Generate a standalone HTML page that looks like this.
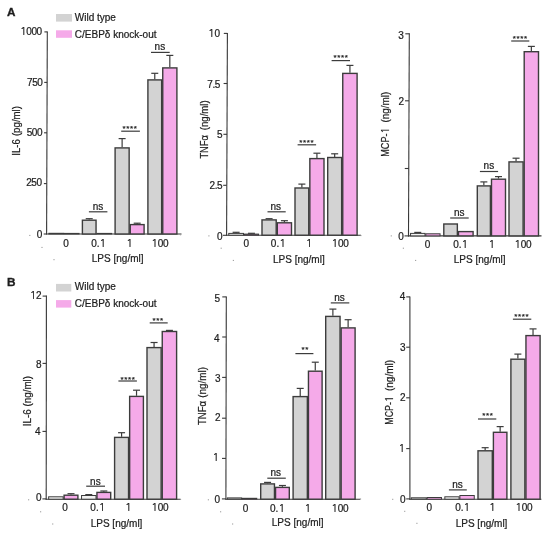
<!DOCTYPE html>
<html><head><meta charset="utf-8"><style>
html,body{margin:0;padding:0;background:#fff;}
svg{display:block;}
svg text{font-family:'Liberation Sans', Arial, sans-serif;fill:#1e1e1e;stroke:#1e1e1e;stroke-width:0.22px;}
</style></head><body>
<svg width="550" height="536" viewBox="0 0 550 536">
<rect width="550" height="536" fill="#fff"/>
<line x1="47.30" y1="31.50" x2="46.60" y2="234.50" stroke="#383838" stroke-width="1.1"/>
<line x1="46.10" y1="234.00" x2="181.50" y2="234.00" stroke="#383838" stroke-width="1.1"/>
<line x1="43.70" y1="234.00" x2="46.60" y2="234.00" stroke="#383838" stroke-width="1.1"/>
<text x="41.9" y="237.8" text-anchor="end" font-size="10" letter-spacing="-0.45">0</text>
<line x1="43.87" y1="183.60" x2="46.77" y2="183.60" stroke="#383838" stroke-width="1.1"/>
<text x="41.5" y="186.2" text-anchor="end" font-size="10" letter-spacing="-0.45">250</text>
<line x1="44.05" y1="132.80" x2="46.95" y2="132.80" stroke="#383838" stroke-width="1.1"/>
<text x="42.1" y="135.8" text-anchor="end" font-size="10" letter-spacing="-0.45">500</text>
<line x1="44.23" y1="82.40" x2="47.13" y2="82.40" stroke="#383838" stroke-width="1.1"/>
<text x="42.4" y="86.1" text-anchor="end" font-size="10" letter-spacing="-0.45">750</text>
<line x1="44.40" y1="31.90" x2="47.30" y2="31.90" stroke="#383838" stroke-width="1.1"/>
<text x="41.7" y="35.4" text-anchor="end" font-size="10" letter-spacing="-0.45"><tspan font-family="NanumGothic" font-size="11.2">1</tspan>000</text>
<rect x="48.85" y="233.30" width="14.75" height="0.70" fill="#f2f2f2" stroke="#3c3c3c" stroke-width="1.0"/>
<rect x="64.40" y="233.40" width="14.65" height="0.60" fill="#f5aae9" stroke="#3c3c3c" stroke-width="1.0"/>
<line x1="89.22" y1="219.60" x2="89.22" y2="218.70" stroke="#3c3c3c" stroke-width="1.2"/>
<line x1="85.72" y1="218.70" x2="92.72" y2="218.70" stroke="#3c3c3c" stroke-width="1.2"/>
<rect x="82.40" y="220.20" width="13.65" height="13.80" fill="#d3d3d3" stroke="#3c3c3c" stroke-width="1.4"/>
<rect x="97.00" y="233.40" width="14.65" height="0.60" fill="#f5aae9" stroke="#3c3c3c" stroke-width="1.0"/>
<line x1="122.12" y1="147.30" x2="122.12" y2="138.60" stroke="#3c3c3c" stroke-width="1.2"/>
<line x1="118.62" y1="138.60" x2="125.62" y2="138.60" stroke="#3c3c3c" stroke-width="1.2"/>
<rect x="115.10" y="147.90" width="14.05" height="86.10" fill="#d3d3d3" stroke="#3c3c3c" stroke-width="1.4"/>
<line x1="137.18" y1="224.00" x2="137.18" y2="223.20" stroke="#3c3c3c" stroke-width="1.2"/>
<line x1="133.68" y1="223.20" x2="140.68" y2="223.20" stroke="#3c3c3c" stroke-width="1.2"/>
<rect x="130.25" y="224.60" width="13.85" height="9.40" fill="#f5aae9" stroke="#3c3c3c" stroke-width="1.4"/>
<line x1="154.77" y1="79.30" x2="154.77" y2="73.30" stroke="#3c3c3c" stroke-width="1.2"/>
<line x1="151.27" y1="73.30" x2="158.27" y2="73.30" stroke="#3c3c3c" stroke-width="1.2"/>
<rect x="147.90" y="79.90" width="13.75" height="154.10" fill="#d3d3d3" stroke="#3c3c3c" stroke-width="1.4"/>
<line x1="169.82" y1="67.30" x2="169.82" y2="55.40" stroke="#3c3c3c" stroke-width="1.2"/>
<line x1="166.32" y1="55.40" x2="173.32" y2="55.40" stroke="#3c3c3c" stroke-width="1.2"/>
<rect x="162.75" y="67.90" width="14.15" height="166.10" fill="#f5aae9" stroke="#3c3c3c" stroke-width="1.4"/>
<line x1="88.90" y1="211.80" x2="107.40" y2="211.80" stroke="#3c3c3c" stroke-width="1.2"/>
<text x="98.0" y="209.5" text-anchor="middle" font-size="10" >ns</text>
<line x1="121.20" y1="131.20" x2="139.90" y2="131.20" stroke="#3c3c3c" stroke-width="1.2"/>
<text x="130.05" y="130.7" text-anchor="middle" font-size="8" letter-spacing="0.65">****</text>
<line x1="151.00" y1="52.40" x2="169.70" y2="52.40" stroke="#3c3c3c" stroke-width="1.2"/>
<text x="159.9" y="50.1" text-anchor="middle" font-size="10" >ns</text>
<text x="66" y="246.6" text-anchor="middle" font-size="10" >0</text>
<text x="98.8" y="246.6" text-anchor="middle" font-size="10" >0.<tspan font-family="NanumGothic" font-size="11.2">1</tspan></text>
<text x="129.6" y="246.6" text-anchor="middle" font-size="10" ><tspan font-family="NanumGothic" font-size="11.2">1</tspan></text>
<text x="159.8" y="246.6" text-anchor="middle" font-size="10" letter-spacing="-0.35"><tspan font-family="NanumGothic" font-size="11.2">1</tspan>00</text>
<text x="91.8" y="262.0" text-anchor="start" font-size="10" >LPS [ng/ml]</text>
<text x="0" y="0" text-anchor="start" font-size="10" textLength="16.50" lengthAdjust="spacingAndGlyphs" transform="translate(19.6,155.70) rotate(-90)">IL-6</text>
<text x="0" y="0" text-anchor="start" font-size="10" textLength="30.10" lengthAdjust="spacingAndGlyphs" transform="translate(19.6,136.10) rotate(-90)">(pg/ml)</text>
<line x1="227.40" y1="32.90" x2="226.60" y2="235.70" stroke="#383838" stroke-width="1.1"/>
<line x1="226.10" y1="235.20" x2="361.00" y2="235.20" stroke="#383838" stroke-width="1.1"/>
<line x1="223.00" y1="235.30" x2="226.60" y2="235.30" stroke="#383838" stroke-width="1.1"/>
<text x="222.2" y="240.4" text-anchor="end" font-size="10" letter-spacing="-0.45">0</text>
<line x1="223.20" y1="185.30" x2="226.80" y2="185.30" stroke="#383838" stroke-width="1.1"/>
<text x="222.1" y="188.5" text-anchor="end" font-size="10" letter-spacing="-0.45">2.5</text>
<line x1="223.40" y1="134.30" x2="227.00" y2="134.30" stroke="#383838" stroke-width="1.1"/>
<text x="222.0" y="137.7" text-anchor="end" font-size="10" letter-spacing="-0.45">5</text>
<line x1="223.60" y1="83.50" x2="227.20" y2="83.50" stroke="#383838" stroke-width="1.1"/>
<text x="219.9" y="87.55" text-anchor="end" font-size="10" letter-spacing="-0.45">7.5</text>
<line x1="223.80" y1="33.40" x2="227.40" y2="33.40" stroke="#383838" stroke-width="1.1"/>
<text x="219.5" y="37.45" text-anchor="end" font-size="10" letter-spacing="-0.45"><tspan font-family="NanumGothic" font-size="11.2">1</tspan>0</text>
<line x1="236.12" y1="232.90" x2="236.12" y2="232.30" stroke="#3c3c3c" stroke-width="1.2"/>
<line x1="232.62" y1="232.30" x2="239.62" y2="232.30" stroke="#3c3c3c" stroke-width="1.2"/>
<rect x="228.75" y="233.40" width="14.75" height="1.80" fill="#f2f2f2" stroke="#3c3c3c" stroke-width="1.0"/>
<line x1="251.43" y1="233.60" x2="251.43" y2="233.30" stroke="#3c3c3c" stroke-width="1.2"/>
<line x1="247.93" y1="233.30" x2="254.93" y2="233.30" stroke="#3c3c3c" stroke-width="1.2"/>
<rect x="244.30" y="234.10" width="14.25" height="1.10" fill="#f5aae9" stroke="#3c3c3c" stroke-width="1.0"/>
<line x1="269.10" y1="219.30" x2="269.10" y2="218.70" stroke="#3c3c3c" stroke-width="1.2"/>
<line x1="265.60" y1="218.70" x2="272.60" y2="218.70" stroke="#3c3c3c" stroke-width="1.2"/>
<rect x="262.00" y="219.90" width="14.20" height="15.30" fill="#d3d3d3" stroke="#3c3c3c" stroke-width="1.4"/>
<line x1="284.40" y1="222.20" x2="284.40" y2="220.70" stroke="#3c3c3c" stroke-width="1.2"/>
<line x1="280.90" y1="220.70" x2="287.90" y2="220.70" stroke="#3c3c3c" stroke-width="1.2"/>
<rect x="277.30" y="222.80" width="14.20" height="12.40" fill="#f5aae9" stroke="#3c3c3c" stroke-width="1.4"/>
<line x1="301.88" y1="187.40" x2="301.88" y2="184.10" stroke="#3c3c3c" stroke-width="1.2"/>
<line x1="298.38" y1="184.10" x2="305.38" y2="184.10" stroke="#3c3c3c" stroke-width="1.2"/>
<rect x="295.00" y="188.00" width="13.75" height="47.20" fill="#d3d3d3" stroke="#3c3c3c" stroke-width="1.4"/>
<line x1="316.92" y1="158.00" x2="316.92" y2="153.20" stroke="#3c3c3c" stroke-width="1.2"/>
<line x1="313.42" y1="153.20" x2="320.42" y2="153.20" stroke="#3c3c3c" stroke-width="1.2"/>
<rect x="309.85" y="158.60" width="14.15" height="76.60" fill="#f5aae9" stroke="#3c3c3c" stroke-width="1.4"/>
<line x1="334.67" y1="156.90" x2="334.67" y2="153.80" stroke="#3c3c3c" stroke-width="1.2"/>
<line x1="331.17" y1="153.80" x2="338.17" y2="153.80" stroke="#3c3c3c" stroke-width="1.2"/>
<rect x="327.70" y="157.50" width="13.95" height="77.70" fill="#d3d3d3" stroke="#3c3c3c" stroke-width="1.4"/>
<line x1="349.93" y1="72.80" x2="349.93" y2="65.40" stroke="#3c3c3c" stroke-width="1.2"/>
<line x1="346.43" y1="65.40" x2="353.43" y2="65.40" stroke="#3c3c3c" stroke-width="1.2"/>
<rect x="342.75" y="73.40" width="14.35" height="161.80" fill="#f5aae9" stroke="#3c3c3c" stroke-width="1.4"/>
<line x1="267.50" y1="211.80" x2="285.70" y2="211.80" stroke="#3c3c3c" stroke-width="1.2"/>
<text x="275.8" y="210.0" text-anchor="middle" font-size="10" >ns</text>
<line x1="297.60" y1="144.80" x2="316.10" y2="144.80" stroke="#3c3c3c" stroke-width="1.2"/>
<text x="306.75" y="144.6" text-anchor="middle" font-size="8" letter-spacing="0.65">****</text>
<line x1="331.60" y1="60.60" x2="350.00" y2="60.60" stroke="#3c3c3c" stroke-width="1.2"/>
<text x="341.05" y="59.6" text-anchor="middle" font-size="8" letter-spacing="0.65">****</text>
<text x="246.2" y="247.2" text-anchor="middle" font-size="10" >0</text>
<text x="278.4" y="247.2" text-anchor="middle" font-size="10" >0.<tspan font-family="NanumGothic" font-size="11.2">1</tspan></text>
<text x="309.1" y="247.2" text-anchor="middle" font-size="10" ><tspan font-family="NanumGothic" font-size="11.2">1</tspan></text>
<text x="340.0" y="247.2" text-anchor="middle" font-size="10" letter-spacing="-0.35"><tspan font-family="NanumGothic" font-size="11.2">1</tspan>00</text>
<text x="273" y="262.6" text-anchor="start" font-size="10" >LPS [ng/ml]</text>
<text x="0" y="0" text-anchor="start" font-size="10" textLength="23.50" lengthAdjust="spacingAndGlyphs" transform="translate(207.7,158.60) rotate(-90)">TNFα</text>
<text x="0" y="0" text-anchor="start" font-size="10" textLength="30.00" lengthAdjust="spacingAndGlyphs" transform="translate(207.7,130.30) rotate(-90)">(ng/ml)</text>
<line x1="409.30" y1="33.30" x2="408.50" y2="236.40" stroke="#383838" stroke-width="1.1"/>
<line x1="408.00" y1="235.90" x2="541.50" y2="235.90" stroke="#383838" stroke-width="1.1"/>
<line x1="404.50" y1="235.90" x2="408.50" y2="235.90" stroke="#383838" stroke-width="1.1"/>
<text x="403.4" y="240.1" text-anchor="end" font-size="10" letter-spacing="-0.45">0</text>
<line x1="404.77" y1="168.50" x2="408.77" y2="168.50" stroke="#383838" stroke-width="1.1"/>
<line x1="405.03" y1="100.80" x2="409.03" y2="100.80" stroke="#383838" stroke-width="1.1"/>
<text x="403.5" y="104.7" text-anchor="end" font-size="10" letter-spacing="-0.45">2</text>
<line x1="405.30" y1="33.80" x2="409.30" y2="33.80" stroke="#383838" stroke-width="1.1"/>
<text x="403.4" y="38.7" text-anchor="end" font-size="10" letter-spacing="-0.45">3</text>
<line x1="417.77" y1="232.90" x2="417.77" y2="232.40" stroke="#3c3c3c" stroke-width="1.2"/>
<line x1="414.27" y1="232.40" x2="421.27" y2="232.40" stroke="#3c3c3c" stroke-width="1.2"/>
<rect x="410.55" y="233.40" width="14.45" height="2.50" fill="#f2f2f2" stroke="#3c3c3c" stroke-width="1.0"/>
<rect x="425.80" y="233.80" width="14.25" height="2.10" fill="#f5aae9" stroke="#3c3c3c" stroke-width="1.0"/>
<rect x="443.80" y="224.00" width="13.55" height="11.90" fill="#d3d3d3" stroke="#3c3c3c" stroke-width="1.4"/>
<rect x="458.45" y="231.60" width="14.65" height="4.30" fill="#f5aae9" stroke="#3c3c3c" stroke-width="1.4"/>
<line x1="483.85" y1="185.30" x2="483.85" y2="181.90" stroke="#3c3c3c" stroke-width="1.2"/>
<line x1="480.35" y1="181.90" x2="487.35" y2="181.90" stroke="#3c3c3c" stroke-width="1.2"/>
<rect x="477.30" y="185.90" width="13.10" height="50.00" fill="#d3d3d3" stroke="#3c3c3c" stroke-width="1.4"/>
<line x1="498.50" y1="178.60" x2="498.50" y2="176.60" stroke="#3c3c3c" stroke-width="1.2"/>
<line x1="495.00" y1="176.60" x2="502.00" y2="176.60" stroke="#3c3c3c" stroke-width="1.2"/>
<rect x="491.50" y="179.20" width="14.00" height="56.70" fill="#f5aae9" stroke="#3c3c3c" stroke-width="1.4"/>
<line x1="516.05" y1="161.30" x2="516.05" y2="158.20" stroke="#3c3c3c" stroke-width="1.2"/>
<line x1="512.55" y1="158.20" x2="519.55" y2="158.20" stroke="#3c3c3c" stroke-width="1.2"/>
<rect x="509.00" y="161.90" width="14.10" height="74.00" fill="#d3d3d3" stroke="#3c3c3c" stroke-width="1.4"/>
<line x1="531.35" y1="51.10" x2="531.35" y2="46.40" stroke="#3c3c3c" stroke-width="1.2"/>
<line x1="527.85" y1="46.40" x2="534.85" y2="46.40" stroke="#3c3c3c" stroke-width="1.2"/>
<rect x="524.20" y="51.70" width="14.30" height="184.20" fill="#f5aae9" stroke="#3c3c3c" stroke-width="1.4"/>
<line x1="450.20" y1="218.00" x2="468.70" y2="218.00" stroke="#3c3c3c" stroke-width="1.2"/>
<text x="459.3" y="215.5" text-anchor="middle" font-size="10" >ns</text>
<line x1="479.90" y1="171.50" x2="498.10" y2="171.50" stroke="#3c3c3c" stroke-width="1.2"/>
<text x="488.9" y="169.3" text-anchor="middle" font-size="10" >ns</text>
<line x1="511.20" y1="41.00" x2="529.30" y2="41.00" stroke="#3c3c3c" stroke-width="1.2"/>
<text x="520.25" y="40.5" text-anchor="middle" font-size="8" letter-spacing="0.65">****</text>
<text x="427.5" y="247.8" text-anchor="middle" font-size="10" >0</text>
<text x="460.8" y="247.8" text-anchor="middle" font-size="10" >0.<tspan font-family="NanumGothic" font-size="11.2">1</tspan></text>
<text x="491.9" y="247.8" text-anchor="middle" font-size="10" ><tspan font-family="NanumGothic" font-size="11.2">1</tspan></text>
<text x="522.8" y="247.8" text-anchor="middle" font-size="10" letter-spacing="-0.35"><tspan font-family="NanumGothic" font-size="11.2">1</tspan>00</text>
<text x="453.8" y="263.2" text-anchor="start" font-size="10" >LPS [ng/ml]</text>
<text x="0" y="0" text-anchor="start" font-size="10" textLength="29.30" lengthAdjust="spacingAndGlyphs" transform="translate(388.8,156.70) rotate(-90)">MCP-<tspan font-family="NanumGothic" font-size="11.2">1</tspan></text>
<text x="0" y="0" text-anchor="start" font-size="10" textLength="30.60" lengthAdjust="spacingAndGlyphs" transform="translate(388.8,122.40) rotate(-90)">(ng/ml)</text>
<line x1="46.40" y1="295.60" x2="46.20" y2="499.70" stroke="#383838" stroke-width="1.1"/>
<line x1="45.70" y1="499.20" x2="180.60" y2="499.20" stroke="#383838" stroke-width="1.1"/>
<line x1="42.40" y1="498.90" x2="46.20" y2="498.90" stroke="#383838" stroke-width="1.1"/>
<text x="41.2" y="500.7" text-anchor="end" font-size="10" letter-spacing="-0.45">0</text>
<line x1="42.47" y1="431.40" x2="46.27" y2="431.40" stroke="#383838" stroke-width="1.1"/>
<text x="40.0" y="435.3" text-anchor="end" font-size="10" letter-spacing="-0.45">4</text>
<line x1="42.53" y1="363.40" x2="46.33" y2="363.40" stroke="#383838" stroke-width="1.1"/>
<text x="41.2" y="367.6" text-anchor="end" font-size="10" letter-spacing="-0.45">8</text>
<line x1="42.60" y1="296.10" x2="46.40" y2="296.10" stroke="#383838" stroke-width="1.1"/>
<text x="41.2" y="298.7" text-anchor="end" font-size="10" letter-spacing="-0.45"><tspan font-family="NanumGothic" font-size="11.2">1</tspan>2</text>
<rect x="48.65" y="496.80" width="14.50" height="2.40" fill="#f2f2f2" stroke="#3c3c3c" stroke-width="1.0"/>
<line x1="71.00" y1="494.60" x2="71.00" y2="493.70" stroke="#3c3c3c" stroke-width="1.2"/>
<line x1="67.50" y1="493.70" x2="74.50" y2="493.70" stroke="#3c3c3c" stroke-width="1.2"/>
<rect x="64.10" y="495.20" width="13.80" height="4.00" fill="#f5aae9" stroke="#3c3c3c" stroke-width="1.4"/>
<line x1="88.78" y1="495.00" x2="88.78" y2="494.60" stroke="#3c3c3c" stroke-width="1.2"/>
<line x1="85.28" y1="494.60" x2="92.28" y2="494.60" stroke="#3c3c3c" stroke-width="1.2"/>
<rect x="81.55" y="495.50" width="14.45" height="3.70" fill="#f2f2f2" stroke="#3c3c3c" stroke-width="1.0"/>
<line x1="103.83" y1="491.80" x2="103.83" y2="491.00" stroke="#3c3c3c" stroke-width="1.2"/>
<line x1="100.33" y1="491.00" x2="107.33" y2="491.00" stroke="#3c3c3c" stroke-width="1.2"/>
<rect x="96.95" y="492.40" width="13.75" height="6.80" fill="#f5aae9" stroke="#3c3c3c" stroke-width="1.4"/>
<line x1="121.58" y1="436.80" x2="121.58" y2="432.70" stroke="#3c3c3c" stroke-width="1.2"/>
<line x1="118.08" y1="432.70" x2="125.08" y2="432.70" stroke="#3c3c3c" stroke-width="1.2"/>
<rect x="114.60" y="437.40" width="13.95" height="61.80" fill="#d3d3d3" stroke="#3c3c3c" stroke-width="1.4"/>
<line x1="136.53" y1="395.80" x2="136.53" y2="390.20" stroke="#3c3c3c" stroke-width="1.2"/>
<line x1="133.03" y1="390.20" x2="140.03" y2="390.20" stroke="#3c3c3c" stroke-width="1.2"/>
<rect x="129.65" y="396.40" width="13.75" height="102.80" fill="#f5aae9" stroke="#3c3c3c" stroke-width="1.4"/>
<line x1="154.07" y1="347.00" x2="154.07" y2="342.50" stroke="#3c3c3c" stroke-width="1.2"/>
<line x1="150.57" y1="342.50" x2="157.57" y2="342.50" stroke="#3c3c3c" stroke-width="1.2"/>
<rect x="147.00" y="347.60" width="14.15" height="151.60" fill="#d3d3d3" stroke="#3c3c3c" stroke-width="1.4"/>
<line x1="169.43" y1="330.90" x2="169.43" y2="330.40" stroke="#3c3c3c" stroke-width="1.2"/>
<line x1="165.93" y1="330.40" x2="172.93" y2="330.40" stroke="#3c3c3c" stroke-width="1.2"/>
<rect x="162.25" y="331.50" width="14.35" height="167.70" fill="#f5aae9" stroke="#3c3c3c" stroke-width="1.4"/>
<line x1="86.20" y1="486.20" x2="105.00" y2="486.20" stroke="#3c3c3c" stroke-width="1.2"/>
<text x="95.4" y="484.6" text-anchor="middle" font-size="10" >ns</text>
<line x1="118.40" y1="381.00" x2="136.90" y2="381.00" stroke="#3c3c3c" stroke-width="1.2"/>
<text x="127.95" y="381.5" text-anchor="middle" font-size="8" letter-spacing="0.65">****</text>
<line x1="149.70" y1="322.90" x2="167.70" y2="322.90" stroke="#3c3c3c" stroke-width="1.2"/>
<text x="158.25" y="323.0" text-anchor="middle" font-size="8" letter-spacing="0.65">***</text>
<text x="65.1" y="511.0" text-anchor="middle" font-size="10" >0</text>
<text x="97.9" y="511.0" text-anchor="middle" font-size="10" >0.<tspan font-family="NanumGothic" font-size="11.2">1</tspan></text>
<text x="128.5" y="511.0" text-anchor="middle" font-size="10" ><tspan font-family="NanumGothic" font-size="11.2">1</tspan></text>
<text x="159.7" y="511.0" text-anchor="middle" font-size="10" letter-spacing="-0.35"><tspan font-family="NanumGothic" font-size="11.2">1</tspan>00</text>
<text x="90.7" y="526.6" text-anchor="start" font-size="10" >LPS [ng/ml]</text>
<text x="0" y="0" text-anchor="start" font-size="10" textLength="17.00" lengthAdjust="spacingAndGlyphs" transform="translate(31.3,426.20) rotate(-90)">IL-6</text>
<text x="0" y="0" text-anchor="start" font-size="10" textLength="30.40" lengthAdjust="spacingAndGlyphs" transform="translate(31.3,406.40) rotate(-90)">(ng/ml)</text>
<line x1="226.30" y1="296.40" x2="225.90" y2="499.70" stroke="#383838" stroke-width="1.1"/>
<line x1="225.40" y1="499.20" x2="360.30" y2="499.20" stroke="#383838" stroke-width="1.1"/>
<line x1="221.90" y1="498.90" x2="225.90" y2="498.90" stroke="#383838" stroke-width="1.1"/>
<text x="219.5" y="502.8" text-anchor="end" font-size="10" letter-spacing="-0.45">0</text>
<line x1="221.98" y1="458.40" x2="225.98" y2="458.40" stroke="#383838" stroke-width="1.1"/>
<text x="218.9" y="461.1" text-anchor="end" font-size="10" letter-spacing="-0.45"><tspan font-family="NanumGothic" font-size="11.2">1</tspan></text>
<line x1="222.06" y1="418.20" x2="226.06" y2="418.20" stroke="#383838" stroke-width="1.1"/>
<text x="220.0" y="420.5" text-anchor="end" font-size="10" letter-spacing="-0.45">2</text>
<line x1="222.14" y1="377.40" x2="226.14" y2="377.40" stroke="#383838" stroke-width="1.1"/>
<text x="220.0" y="382.2" text-anchor="end" font-size="10" letter-spacing="-0.45">3</text>
<line x1="222.22" y1="337.00" x2="226.22" y2="337.00" stroke="#383838" stroke-width="1.1"/>
<text x="219.2" y="342.1" text-anchor="end" font-size="10" letter-spacing="-0.45">4</text>
<line x1="222.30" y1="296.90" x2="226.30" y2="296.90" stroke="#383838" stroke-width="1.1"/>
<text x="219.6" y="301.8" text-anchor="end" font-size="10" letter-spacing="-0.45">5</text>
<rect x="227.35" y="497.90" width="14.25" height="1.30" fill="#f2f2f2" stroke="#3c3c3c" stroke-width="1.0"/>
<rect x="242.40" y="498.30" width="14.35" height="0.90" fill="#f5aae9" stroke="#3c3c3c" stroke-width="1.0"/>
<line x1="267.57" y1="483.30" x2="267.57" y2="482.40" stroke="#3c3c3c" stroke-width="1.2"/>
<line x1="264.07" y1="482.40" x2="271.07" y2="482.40" stroke="#3c3c3c" stroke-width="1.2"/>
<rect x="260.70" y="483.90" width="13.75" height="15.30" fill="#d3d3d3" stroke="#3c3c3c" stroke-width="1.4"/>
<line x1="282.43" y1="486.80" x2="282.43" y2="485.50" stroke="#3c3c3c" stroke-width="1.2"/>
<line x1="278.93" y1="485.50" x2="285.93" y2="485.50" stroke="#3c3c3c" stroke-width="1.2"/>
<rect x="275.55" y="487.40" width="13.75" height="11.80" fill="#f5aae9" stroke="#3c3c3c" stroke-width="1.4"/>
<line x1="300.22" y1="396.00" x2="300.22" y2="388.40" stroke="#3c3c3c" stroke-width="1.2"/>
<line x1="296.72" y1="388.40" x2="303.72" y2="388.40" stroke="#3c3c3c" stroke-width="1.2"/>
<rect x="293.10" y="396.60" width="14.25" height="102.60" fill="#d3d3d3" stroke="#3c3c3c" stroke-width="1.4"/>
<line x1="315.27" y1="370.60" x2="315.27" y2="362.20" stroke="#3c3c3c" stroke-width="1.2"/>
<line x1="311.77" y1="362.20" x2="318.77" y2="362.20" stroke="#3c3c3c" stroke-width="1.2"/>
<rect x="308.45" y="371.20" width="13.65" height="128.00" fill="#f5aae9" stroke="#3c3c3c" stroke-width="1.4"/>
<line x1="332.88" y1="315.80" x2="332.88" y2="309.10" stroke="#3c3c3c" stroke-width="1.2"/>
<line x1="329.38" y1="309.10" x2="336.38" y2="309.10" stroke="#3c3c3c" stroke-width="1.2"/>
<rect x="325.70" y="316.40" width="14.35" height="182.80" fill="#d3d3d3" stroke="#3c3c3c" stroke-width="1.4"/>
<line x1="348.12" y1="327.30" x2="348.12" y2="319.70" stroke="#3c3c3c" stroke-width="1.2"/>
<line x1="344.62" y1="319.70" x2="351.62" y2="319.70" stroke="#3c3c3c" stroke-width="1.2"/>
<rect x="341.15" y="327.90" width="13.95" height="171.30" fill="#f5aae9" stroke="#3c3c3c" stroke-width="1.4"/>
<line x1="267.30" y1="478.20" x2="285.80" y2="478.20" stroke="#3c3c3c" stroke-width="1.2"/>
<text x="275.7" y="475.5" text-anchor="middle" font-size="10" >ns</text>
<line x1="295.40" y1="353.60" x2="313.40" y2="353.60" stroke="#3c3c3c" stroke-width="1.2"/>
<text x="305.35" y="351.9" text-anchor="middle" font-size="8" letter-spacing="0.65">**</text>
<line x1="330.80" y1="302.90" x2="349.30" y2="302.90" stroke="#3c3c3c" stroke-width="1.2"/>
<text x="339.5" y="301.3" text-anchor="middle" font-size="10" >ns</text>
<text x="245.5" y="511.5" text-anchor="middle" font-size="10" >0</text>
<text x="277.6" y="511.5" text-anchor="middle" font-size="10" >0.<tspan font-family="NanumGothic" font-size="11.2">1</tspan></text>
<text x="307.9" y="511.5" text-anchor="middle" font-size="10" ><tspan font-family="NanumGothic" font-size="11.2">1</tspan></text>
<text x="339.8" y="511.5" text-anchor="middle" font-size="10" letter-spacing="-0.35"><tspan font-family="NanumGothic" font-size="11.2">1</tspan>00</text>
<text x="271.8" y="526.4" text-anchor="start" font-size="10" >LPS [ng/ml]</text>
<text x="0" y="0" text-anchor="start" font-size="10" textLength="23.90" lengthAdjust="spacingAndGlyphs" transform="translate(206.4,425.00) rotate(-90)">TNFα</text>
<text x="0" y="0" text-anchor="start" font-size="10" textLength="30.80" lengthAdjust="spacingAndGlyphs" transform="translate(206.4,397.70) rotate(-90)">(ng/ml)</text>
<line x1="409.90" y1="296.40" x2="409.90" y2="499.70" stroke="#383838" stroke-width="1.1"/>
<line x1="409.40" y1="499.20" x2="541.40" y2="499.20" stroke="#383838" stroke-width="1.1"/>
<line x1="406.20" y1="498.90" x2="409.90" y2="498.90" stroke="#383838" stroke-width="1.1"/>
<text x="405.0" y="502.5" text-anchor="end" font-size="10" letter-spacing="-0.45">0</text>
<line x1="406.20" y1="448.60" x2="409.90" y2="448.60" stroke="#383838" stroke-width="1.1"/>
<text x="404.8" y="452.1" text-anchor="end" font-size="10" letter-spacing="-0.45"><tspan font-family="NanumGothic" font-size="11.2">1</tspan></text>
<line x1="406.20" y1="397.80" x2="409.90" y2="397.80" stroke="#383838" stroke-width="1.1"/>
<text x="405.0" y="401.3" text-anchor="end" font-size="10" letter-spacing="-0.45">2</text>
<line x1="406.20" y1="347.20" x2="409.90" y2="347.20" stroke="#383838" stroke-width="1.1"/>
<text x="405.0" y="351.0" text-anchor="end" font-size="10" letter-spacing="-0.45">3</text>
<line x1="406.20" y1="296.90" x2="409.90" y2="296.90" stroke="#383838" stroke-width="1.1"/>
<text x="404.8" y="300.45" text-anchor="end" font-size="10" letter-spacing="-0.45">4</text>
<rect x="411.25" y="497.80" width="15.05" height="1.40" fill="#f2f2f2" stroke="#3c3c3c" stroke-width="1.0"/>
<rect x="427.10" y="497.50" width="14.35" height="1.70" fill="#f5aae9" stroke="#3c3c3c" stroke-width="1.0"/>
<rect x="444.85" y="496.80" width="14.25" height="2.40" fill="#f2f2f2" stroke="#3c3c3c" stroke-width="1.0"/>
<rect x="459.90" y="495.50" width="14.35" height="3.70" fill="#f5aae9" stroke="#3c3c3c" stroke-width="1.0"/>
<line x1="485.15" y1="450.20" x2="485.15" y2="447.70" stroke="#3c3c3c" stroke-width="1.2"/>
<line x1="481.65" y1="447.70" x2="488.65" y2="447.70" stroke="#3c3c3c" stroke-width="1.2"/>
<rect x="478.00" y="450.80" width="14.30" height="48.40" fill="#d3d3d3" stroke="#3c3c3c" stroke-width="1.4"/>
<line x1="500.15" y1="431.70" x2="500.15" y2="426.60" stroke="#3c3c3c" stroke-width="1.2"/>
<line x1="496.65" y1="426.60" x2="503.65" y2="426.60" stroke="#3c3c3c" stroke-width="1.2"/>
<rect x="493.40" y="432.30" width="13.50" height="66.90" fill="#f5aae9" stroke="#3c3c3c" stroke-width="1.4"/>
<line x1="517.88" y1="358.60" x2="517.88" y2="354.10" stroke="#3c3c3c" stroke-width="1.2"/>
<line x1="514.38" y1="354.10" x2="521.38" y2="354.10" stroke="#3c3c3c" stroke-width="1.2"/>
<rect x="510.90" y="359.20" width="13.95" height="140.00" fill="#d3d3d3" stroke="#3c3c3c" stroke-width="1.4"/>
<line x1="533.03" y1="335.00" x2="533.03" y2="328.90" stroke="#3c3c3c" stroke-width="1.2"/>
<line x1="529.53" y1="328.90" x2="536.53" y2="328.90" stroke="#3c3c3c" stroke-width="1.2"/>
<rect x="525.95" y="335.60" width="14.15" height="163.60" fill="#f5aae9" stroke="#3c3c3c" stroke-width="1.4"/>
<line x1="448.90" y1="489.90" x2="466.80" y2="489.90" stroke="#3c3c3c" stroke-width="1.2"/>
<text x="457.5" y="487.5" text-anchor="middle" font-size="10" >ns</text>
<line x1="478.00" y1="419.00" x2="496.30" y2="419.00" stroke="#3c3c3c" stroke-width="1.2"/>
<text x="487.85" y="417.8" text-anchor="middle" font-size="8" letter-spacing="0.65">***</text>
<line x1="512.90" y1="319.20" x2="531.30" y2="319.20" stroke="#3c3c3c" stroke-width="1.2"/>
<text x="521.75" y="319.2" text-anchor="middle" font-size="8" letter-spacing="0.65">****</text>
<text x="429.4" y="511.3" text-anchor="middle" font-size="10" >0</text>
<text x="462.7" y="511.3" text-anchor="middle" font-size="10" >0.<tspan font-family="NanumGothic" font-size="11.2">1</tspan></text>
<text x="492.4" y="511.3" text-anchor="middle" font-size="10" ><tspan font-family="NanumGothic" font-size="11.2">1</tspan></text>
<text x="523.8" y="511.3" text-anchor="middle" font-size="10" letter-spacing="-0.35"><tspan font-family="NanumGothic" font-size="11.2">1</tspan>00</text>
<text x="455.7" y="527.3" text-anchor="start" font-size="10" >LPS [ng/ml]</text>
<text x="0" y="0" text-anchor="start" font-size="10" textLength="28.60" lengthAdjust="spacingAndGlyphs" transform="translate(393.4,424.70) rotate(-90)">MCP-<tspan font-family="NanumGothic" font-size="11.2">1</tspan></text>
<text x="0" y="0" text-anchor="start" font-size="10" textLength="31.30" lengthAdjust="spacingAndGlyphs" transform="translate(393.4,391.10) rotate(-90)">(ng/ml)</text>
<text x="6.9" y="15.9" text-anchor="start" font-size="11.7" font-weight="bold" style="stroke-width:0.35px">A</text>
<text x="7.1" y="285.6" text-anchor="start" font-size="11.8" font-weight="bold" style="stroke-width:0.35px">B</text>
<rect x="56" y="14.0" width="16.0" height="7.6" fill="#d3d3d3"/>
<rect x="56" y="30.3" width="16.0" height="7.5" fill="#f5aae9"/>
<text x="74.8" y="21.0" text-anchor="start" font-size="10" >Wild type</text>
<text x="74.8" y="37.6" text-anchor="start" font-size="10" >C/EBPδ knock-out</text>
<rect x="56" y="283.9" width="15.3" height="7.6" fill="#d3d3d3"/>
<rect x="56" y="300.1" width="15.3" height="7.5" fill="#f5aae9"/>
<text x="74.8" y="289.9" text-anchor="start" font-size="10" >Wild type</text>
<text x="74.8" y="307.3" text-anchor="start" font-size="10" >C/EBPδ knock-out</text>
<rect x="29.2" y="234.9" width="1.2" height="1" fill="#9a9a9a"/>
<rect x="41.4" y="246.9" width="1.2" height="1" fill="#9a9a9a"/>
<rect x="53.4" y="259.2" width="1.2" height="1" fill="#9a9a9a"/>
<rect x="179.9" y="234.3" width="1.2" height="1" fill="#9a9a9a"/>
<rect x="208.3" y="235.4" width="1.2" height="1" fill="#9a9a9a"/>
<rect x="220.6" y="247.7" width="1.2" height="1" fill="#9a9a9a"/>
<rect x="232.8" y="259.9" width="1.2" height="1" fill="#9a9a9a"/>
<rect x="360.3" y="235.1" width="1.2" height="1" fill="#9a9a9a"/>
<rect x="390.7" y="235.4" width="1.2" height="1" fill="#9a9a9a"/>
<rect x="402.8" y="247.7" width="1.2" height="1" fill="#9a9a9a"/>
<rect x="415.0" y="259.9" width="1.2" height="1" fill="#9a9a9a"/>
<rect x="28.0" y="499.3" width="1.2" height="1" fill="#9a9a9a"/>
<rect x="40.0" y="511.3" width="1.2" height="1" fill="#9a9a9a"/>
<rect x="52.1" y="523.5" width="1.2" height="1" fill="#9a9a9a"/>
<rect x="179.9" y="499.0" width="1.2" height="1" fill="#9a9a9a"/>
<rect x="207.8" y="499.3" width="1.2" height="1" fill="#9a9a9a"/>
<rect x="220.0" y="511.3" width="1.2" height="1" fill="#9a9a9a"/>
<rect x="232.0" y="523.5" width="1.2" height="1" fill="#9a9a9a"/>
<rect x="359.9" y="498.5" width="1.2" height="1" fill="#9a9a9a"/>
<rect x="392.1" y="498.8" width="1.2" height="1" fill="#9a9a9a"/>
<rect x="404.1" y="510.8" width="1.2" height="1" fill="#9a9a9a"/>
<rect x="416.3" y="522.8" width="1.2" height="1" fill="#9a9a9a"/>
</svg>
</body></html>
